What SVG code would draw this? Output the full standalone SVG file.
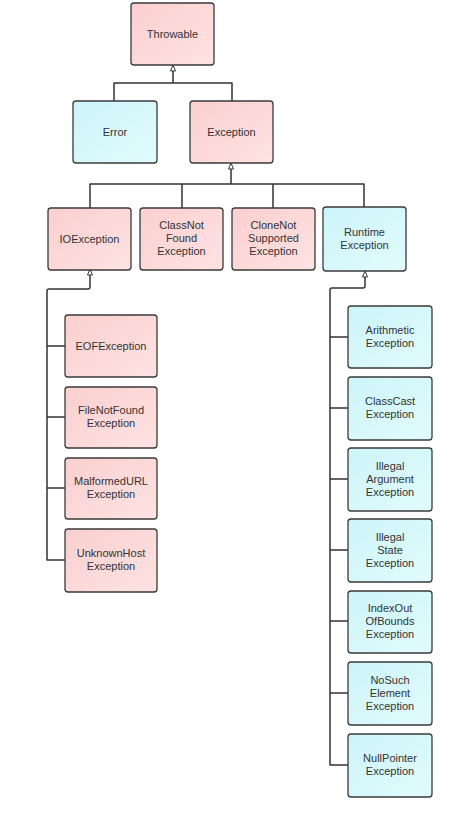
<svg xmlns="http://www.w3.org/2000/svg" width="474" height="820" viewBox="0 0 474 820">
<defs>
<linearGradient id="pink" x1="0" y1="0" x2="1" y2="1">
<stop offset="0" stop-color="#fbcfcf"/>
<stop offset="1" stop-color="#fde3e3"/>
</linearGradient>
<linearGradient id="cyan" x1="0" y1="0" x2="1" y2="1">
<stop offset="0" stop-color="#ccf5f9"/>
<stop offset="1" stop-color="#e2fbfd"/>
</linearGradient>
<marker id="tri" viewBox="0 0 10 10" refX="5" refY="0" markerWidth="5" markerHeight="6" orient="auto-start-reverse" markerUnits="userSpaceOnUse">
<path d="M5,0 L9.5,9 L0.5,9 Z" fill="#fff" stroke="#333" stroke-width="1.6"/>
</marker>
<style>
.p{fill:url(#pink);stroke:#3a3a3a;stroke-width:1.3}
.c{fill:url(#cyan);stroke:#3a3a3a;stroke-width:1.3}
text{font-family:"Liberation Sans",Arial,sans-serif;font-size:11px;fill:#333;text-anchor:middle}
.l{fill:none;stroke:#333;stroke-width:1.5;stroke-linejoin:round}
</style>
</defs>
<rect width="474" height="820" fill="#fff"/>
<g id="connectors">
<path class="l" d="M173,71 V83 M114,101 V83 H232 V101"/>
<path d="M173,65 L175.5,71 L170.5,71 Z" fill="#fff" stroke="#333" stroke-width="1"/>
<path class="l" d="M231,169 V184 M90,208 V184 H364 V207 M182,184 V208 M273,184 V208"/>
<path d="M231,163 L233.5,169 L228.5,169 Z" fill="#fff" stroke="#333" stroke-width="1"/>
<path class="l" d="M90,275 V287 Q90,289 88,289 H49 Q47,289 47,291 V560 H65 M47,346 H65 M47,417 H65 M47,488 H65"/>
<path d="M90,269 L92.5,275 L87.5,275 Z" fill="#fff" stroke="#333" stroke-width="1"/>
<path class="l" d="M365,277 V286 Q365,288 363,288 H332 Q330,288 330,290 V765 H348 M330,337 H348 M330,408 H348 M330,479 H348 M330,550 H348 M330,621 H348 M330,693 H348"/>
<path d="M365,271 L367.5,277 L362.5,277 Z" fill="#fff" stroke="#333" stroke-width="1"/>
</g>
<g id="throwable"><rect class="p" x="131" y="3" width="83" height="62" rx="3"/><text x="172.5" y="38">Throwable</text></g>
<g id="error"><rect class="c" x="73" y="101" width="84" height="62" rx="3"/><text x="115" y="136">Error</text></g>
<g id="exception"><rect class="p" x="190" y="101" width="83" height="62" rx="3"/><text x="231.5" y="136">Exception</text></g>
<g id="ioexception"><rect class="p" x="48" y="208" width="83" height="62" rx="3"/><text x="89.5" y="243">IOException</text></g>
<g id="classnotfound"><rect class="p" x="140" y="208" width="83" height="62" rx="3"/><text x="181.5" y="229">ClassNot</text><text x="181.5" y="242">Found</text><text x="181.5" y="255">Exception</text></g>
<g id="clonenotsupported"><rect class="p" x="232" y="208" width="83" height="62" rx="3"/><text x="273.5" y="229">CloneNot</text><text x="273.5" y="242">Supported</text><text x="273.5" y="255">Exception</text></g>
<g id="runtime"><rect class="c" x="323" y="207" width="83" height="64" rx="3"/><text x="364.5" y="236">Runtime</text><text x="364.5" y="249">Exception</text></g>
<g id="eof"><rect class="p" x="65" y="315" width="92" height="62" rx="3"/><text x="111" y="350">EOFException</text></g>
<g id="filenotfound"><rect class="p" x="65" y="387" width="92" height="61" rx="3"/><text x="111" y="414">FileNotFound</text><text x="111" y="427">Exception</text></g>
<g id="malformedurl"><rect class="p" x="65" y="458" width="92" height="61" rx="3"/><text x="111" y="485">MalformedURL</text><text x="111" y="498">Exception</text></g>
<g id="unknownhost"><rect class="p" x="65" y="529" width="92" height="63" rx="3"/><text x="111" y="557">UnknownHost</text><text x="111" y="570">Exception</text></g>
<g id="arithmetic"><rect class="c" x="348" y="306" width="84" height="62" rx="3"/><text x="390" y="334">Arithmetic</text><text x="390" y="347">Exception</text></g>
<g id="classcast"><rect class="c" x="348" y="377" width="84" height="63" rx="3"/><text x="390" y="405">ClassCast</text><text x="390" y="418">Exception</text></g>
<g id="illegalargument"><rect class="c" x="348" y="448" width="84" height="63" rx="3"/><text x="390" y="470">Illegal</text><text x="390" y="483">Argument</text><text x="390" y="496">Exception</text></g>
<g id="illegalstate"><rect class="c" x="348" y="519" width="84" height="63" rx="3"/><text x="390" y="541">Illegal</text><text x="390" y="554">State</text><text x="390" y="567">Exception</text></g>
<g id="indexoutofbounds"><rect class="c" x="348" y="591" width="84" height="62" rx="3"/><text x="390" y="612">IndexOut</text><text x="390" y="625">OfBounds</text><text x="390" y="638">Exception</text></g>
<g id="nosuchelement"><rect class="c" x="348" y="662" width="84" height="63" rx="3"/><text x="390" y="684">NoSuch</text><text x="390" y="697">Element</text><text x="390" y="710">Exception</text></g>
<g id="nullpointer"><rect class="c" x="348" y="734" width="84" height="63" rx="3"/><text x="390" y="762">NullPointer</text><text x="390" y="775">Exception</text></g>
</svg>
